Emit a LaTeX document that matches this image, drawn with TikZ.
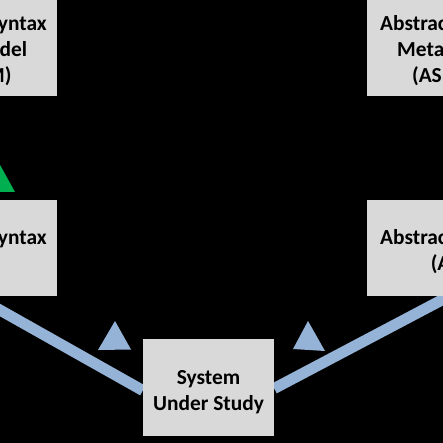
\documentclass[tikz,border=0pt]{standalone}
\usepackage{fontspec}
\setmainfont{Carlito}
\definecolor{boxgray}{HTML}{D9D9D9}
\definecolor{lineblue}{HTML}{95B3D7}
\definecolor{arrgreen}{HTML}{00B050}
\pgfdeclarelayer{bg}
\pgfdeclarelayer{lines}
\pgfsetlayers{bg,lines,main}
\begin{document}
\begin{tikzpicture}[x=1pt,y=-1pt,
  box/.style={fill=boxgray, draw=none, inner sep=0pt,
    minimum width=164pt, minimum height=96pt},
  lbl/.style={inner sep=0pt, align=center, yshift=-4pt,
    font=\fontsize{21.4}{26}\selectfont\bfseries},
  link/.style={draw=lineblue, line width=11pt}
]
\useasboundingbox (0,0) rectangle (443,443);
\clip (0,0) rectangle (443,443);
\begin{pgfonlayer}{bg}
\fill[black] (0,0) rectangle (443,443);
\end{pgfonlayer}
% boxes
\node[box] (csmm) at (-24.6,48) {};
\node[box] (asmm) at (449,48) {};
\node[box] (cs) at (-24.6,248) {};
\node[box] (as) at (449,248) {};
\node[box, minimum width=131pt, minimum height=97pt] (sus) at (208.5,387.5) {};
% texts
\node[lbl, yshift=1pt] (csmmt) at (csmm.center) {Concrete Syntax\\Metamodel\\(CSMM)};
\node[lbl, yshift=1pt] (asmmt) at (asmm.center) {Abstract Syntax\\Metamodel\\(ASMM)};
\node[lbl] (cst) at (cs.center) {Concrete Syntax\\(CS)};
\node[lbl] (ast) at (as.center) {Abstract Syntax\\(AS)};
\node[lbl, yshift=-1pt] (sust) at (sus.center) {System\\Under Study};
% connectors
\begin{pgfonlayer}{lines}
\draw[link] (cs.south) -- ([yshift=-3pt]sus.west);
\draw[link] (as.south) -- ([yshift=-1pt]sus.east);
\end{pgfonlayer}
% arrowheads
\fill[lineblue] (115,321) -- (131,349.5) -- (98,350) -- cycle;
\fill[lineblue] (308,321) -- (325,351) -- (293,349) -- cycle;
\fill[arrgreen] (-1,163) -- (15,192) -- (-17,192) -- cycle;
\end{tikzpicture}
\end{document}
